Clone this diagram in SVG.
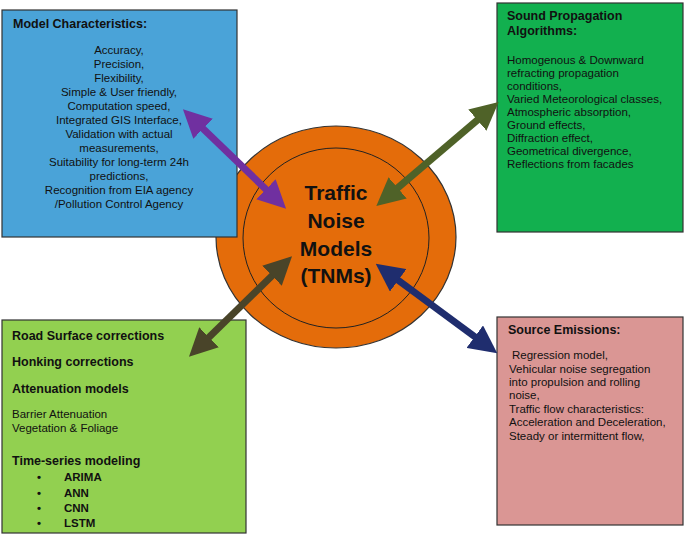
<svg xmlns="http://www.w3.org/2000/svg" width="685" height="535" viewBox="0 0 685 535">
<style>
text{font-family:"Liberation Sans",Arial,sans-serif;fill:#111}
.b{stroke:#333;stroke-width:1.2}
.h{font-weight:bold;font-size:12.5px}
.t{font-size:11.5px}
.c{text-anchor:middle}
.a{stroke-width:7;fill:none}
.m{font-size:21px;font-weight:bold;text-anchor:middle}
</style>
<defs>
<marker id="mp" viewBox="0 0 10 10" refX="5" refY="5" markerWidth="4" markerHeight="4" orient="auto-start-reverse" markerUnits="strokeWidth"><path d="M0,0L10,5L0,10z" fill="#7030a0"/></marker>
<marker id="mg" viewBox="0 0 10 10" refX="5" refY="5" markerWidth="4" markerHeight="4" orient="auto-start-reverse" markerUnits="strokeWidth"><path d="M0,0L10,5L0,10z" fill="#4f6228"/></marker>
<marker id="mo" viewBox="0 0 10 10" refX="5" refY="5" markerWidth="4" markerHeight="4" orient="auto-start-reverse" markerUnits="strokeWidth"><path d="M0,0L10,5L0,10z" fill="#494429"/></marker>
<marker id="mn" viewBox="0 0 10 10" refX="5" refY="5" markerWidth="4" markerHeight="4" orient="auto-start-reverse" markerUnits="strokeWidth"><path d="M0,0L10,5L0,10z" fill="#1f2d6e"/></marker>
</defs>
<g id="center">
<ellipse cx="336" cy="237" rx="120" ry="111" fill="#e46c0a" stroke="#333" stroke-width="1.2"/>
<ellipse cx="336" cy="238" rx="93" ry="90" fill="none" stroke="#222" stroke-width="1"/>
<text class="m" x="336" y="200">Traffic</text>
<text class="m" x="336" y="228">Noise</text>
<text class="m" x="336" y="256">Models</text>
<text class="m" x="336" y="283">(TNMs)</text>
</g>
<g id="model">
<rect class="b" x="2" y="10" width="235" height="227" fill="#4aa3d8"/>
<text class="h" x="13" y="28">Model Characteristics:</text>
<g class="t c">
<text x="119" y="54">Accuracy,</text><text x="119" y="68">Precision,</text><text x="119" y="82">Flexibility,</text>
<text x="119" y="96">Simple &amp; User friendly,</text><text x="119" y="110">Computation speed,</text>
<text x="119" y="124">Integrated GIS Interface,</text><text x="119" y="138">Validation with actual</text>
<text x="119" y="152">measurements,</text><text x="119" y="166">Suitability for long-term 24h</text>
<text x="119" y="180">predictions,</text><text x="119" y="194">Recognition from EIA agency</text>
<text x="119" y="208">/Pollution Control Agency</text>
</g>
</g>
<g id="sound">
<rect class="b" x="497" y="3" width="186" height="229" fill="#12b04f"/>
<text class="h" x="507" y="20">Sound Propagation</text>
<text class="h" x="507" y="35">Algorithms:</text>
<g class="t">
<text x="507" y="64">Homogenous &amp; Downward</text><text x="507" y="77">refracting propagation</text>
<text x="507" y="90">conditions,</text><text x="507" y="103">Varied Meteorological classes,</text>
<text x="507" y="116">Atmospheric absorption,</text><text x="507" y="129">Ground effects,</text>
<text x="507" y="142">Diffraction effect,</text><text x="507" y="155">Geometrical divergence,</text>
<text x="507" y="168">Reflections from facades</text>
</g>
</g>
<g id="road">
<rect class="b" x="2" y="320" width="244" height="213" fill="#92d050"/>
<text class="h" x="12" y="340">Road Surface corrections</text>
<text class="h" x="12" y="366">Honking corrections</text>
<text class="h" x="12" y="393">Attenuation models</text>
<text class="t" x="12" y="418">Barrier Attenuation</text>
<text class="t" x="12" y="432">Vegetation &amp; Foliage</text>
<text class="h" x="12" y="465">Time-series modeling</text>
<g class="t" font-weight="bold">
<text x="37" y="481">•</text><text x="64" y="481">ARIMA</text>
<text x="37" y="497">•</text><text x="64" y="497">ANN</text>
<text x="37" y="512">•</text><text x="64" y="512">CNN</text>
<text x="37" y="527">•</text><text x="64" y="527">LSTM</text>
</g>
</g>
<g id="source">
<rect class="b" x="497" y="317" width="186" height="208" fill="#da9694"/>
<text class="h" x="508" y="334">Source Emissions:</text>
<g class="t">
<text x="512" y="359">Regression model,</text><text x="509" y="373">Vehicular noise segregation</text>
<text x="509" y="386">into propulsion and rolling</text><text x="509" y="399">noise,</text>
<text x="509" y="413">Traffic flow characteristics:</text><text x="509" y="426">Acceleration and Deceleration,</text>
<text x="509" y="440">Steady or intermittent flow,</text>
</g>
</g>
<g id="connectors">
<line class="a" x1="193" y1="119" x2="276" y2="199" stroke="#7030a0" marker-start="url(#mp)" marker-end="url(#mp)"/>
<line class="a" x1="488" y1="111" x2="387" y2="197" stroke="#4f6228" marker-start="url(#mg)" marker-end="url(#mg)"/>
<line class="a" x1="199" y1="347" x2="282" y2="266" stroke="#494429" marker-start="url(#mo)" marker-end="url(#mo)"/>
<line class="a" x1="486" y1="345" x2="387" y2="272" stroke="#1f2d6e" marker-start="url(#mn)" marker-end="url(#mn)"/>
</g>
</svg>
